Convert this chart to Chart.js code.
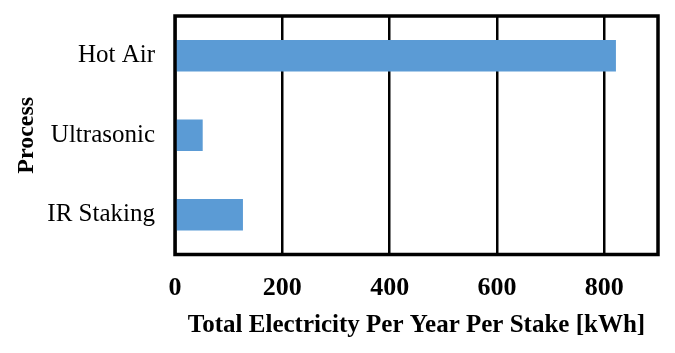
<!DOCTYPE html>
<html>
<head>
<meta charset="utf-8">
<script src="https://cdn.jsdelivr.net/npm/chart.js@4"></script>
<style>
  html, body { margin: 0; padding: 0; background: #fff; }
  #wrap { width: 675px; height: 353px; }
</style>
</head>
<body>
<div id="wrap"><canvas id="grafico"></canvas></div>
<script>
var processos = ['Hot Air', 'Ultrasonic', 'IR Staking']
var eletricidade = [821, 51, 126]
var ticksX = [0, 200, 400, 600, 800]

var serif = "'Liberation Serif', 'Times New Roman', serif"

// moldura preta em volta da area do grafico
const moldura = {
    id: 'moldura',
    afterDraw(chart) {
        const { ctx, chartArea } = chart
        ctx.save()
        ctx.strokeStyle = '#000'
        ctx.lineWidth = 3.5
        ctx.strokeRect(chartArea.left, chartArea.top, chartArea.right - chartArea.left, chartArea.bottom - chartArea.top)
        ctx.restore()
    }
}

const config = {
    type: 'bar',
    data: {
        labels: processos,
        datasets: [{
            data: eletricidade,
            backgroundColor: '#5B9BD5',
            borderWidth: 0,
            barThickness: 31
        }]
    },
    options: {
        indexAxis: 'y',
        responsive: true,
        maintainAspectRatio: false,
        animation: false,
        layout: { padding: { top: 16, right: 17, left: 0, bottom: 0 } },
        plugins: {
            legend: { display: false },
            tooltip: { enabled: false }
        },
        scales: {
            x: {
                min: 0,
                max: 900,
                afterBuildTicks: function (scale) {
                    scale.ticks = ticksX.map(v => ({ value: v }))
                },
                afterFit: function (scale) {
                    scale.height = 98.5
                    scale.paddingLeft = 0
                    scale.paddingRight = 0
                },
                grid: { color: '#000', lineWidth: 2.5, drawTicks: false },
                border: { display: false },
                ticks: {
                    color: '#000',
                    padding: 18,
                    font: { family: serif, size: 26, weight: 'bold' }
                },
                title: {
                    display: true,
                    text: 'Total Electricity Per Year Per Stake [kWh]',
                    color: '#000',
                    padding: { top: 0, bottom: 12 },
                    font: { family: serif, size: 25, weight: 'bold' }
                }
            },
            y: {
                afterFit: function (scale) {
                    scale.width = 175
                    scale.paddingTop = 0
                    scale.paddingBottom = 0
                },
                grid: { display: false, drawTicks: false },
                border: { display: false },
                ticks: {
                    color: '#000',
                    padding: 20,
                    font: { family: serif, size: 25 }
                },
                title: {
                    display: true,
                    text: 'Process',
                    color: '#000',
                    padding: { top: 12, bottom: 0 },
                    font: { family: serif, size: 24, weight: 'bold' }
                }
            }
        }
    },
    plugins: [moldura]
}

const meuGrafico = new Chart(document.getElementById('grafico'), config)
</script>
</body>
</html>
